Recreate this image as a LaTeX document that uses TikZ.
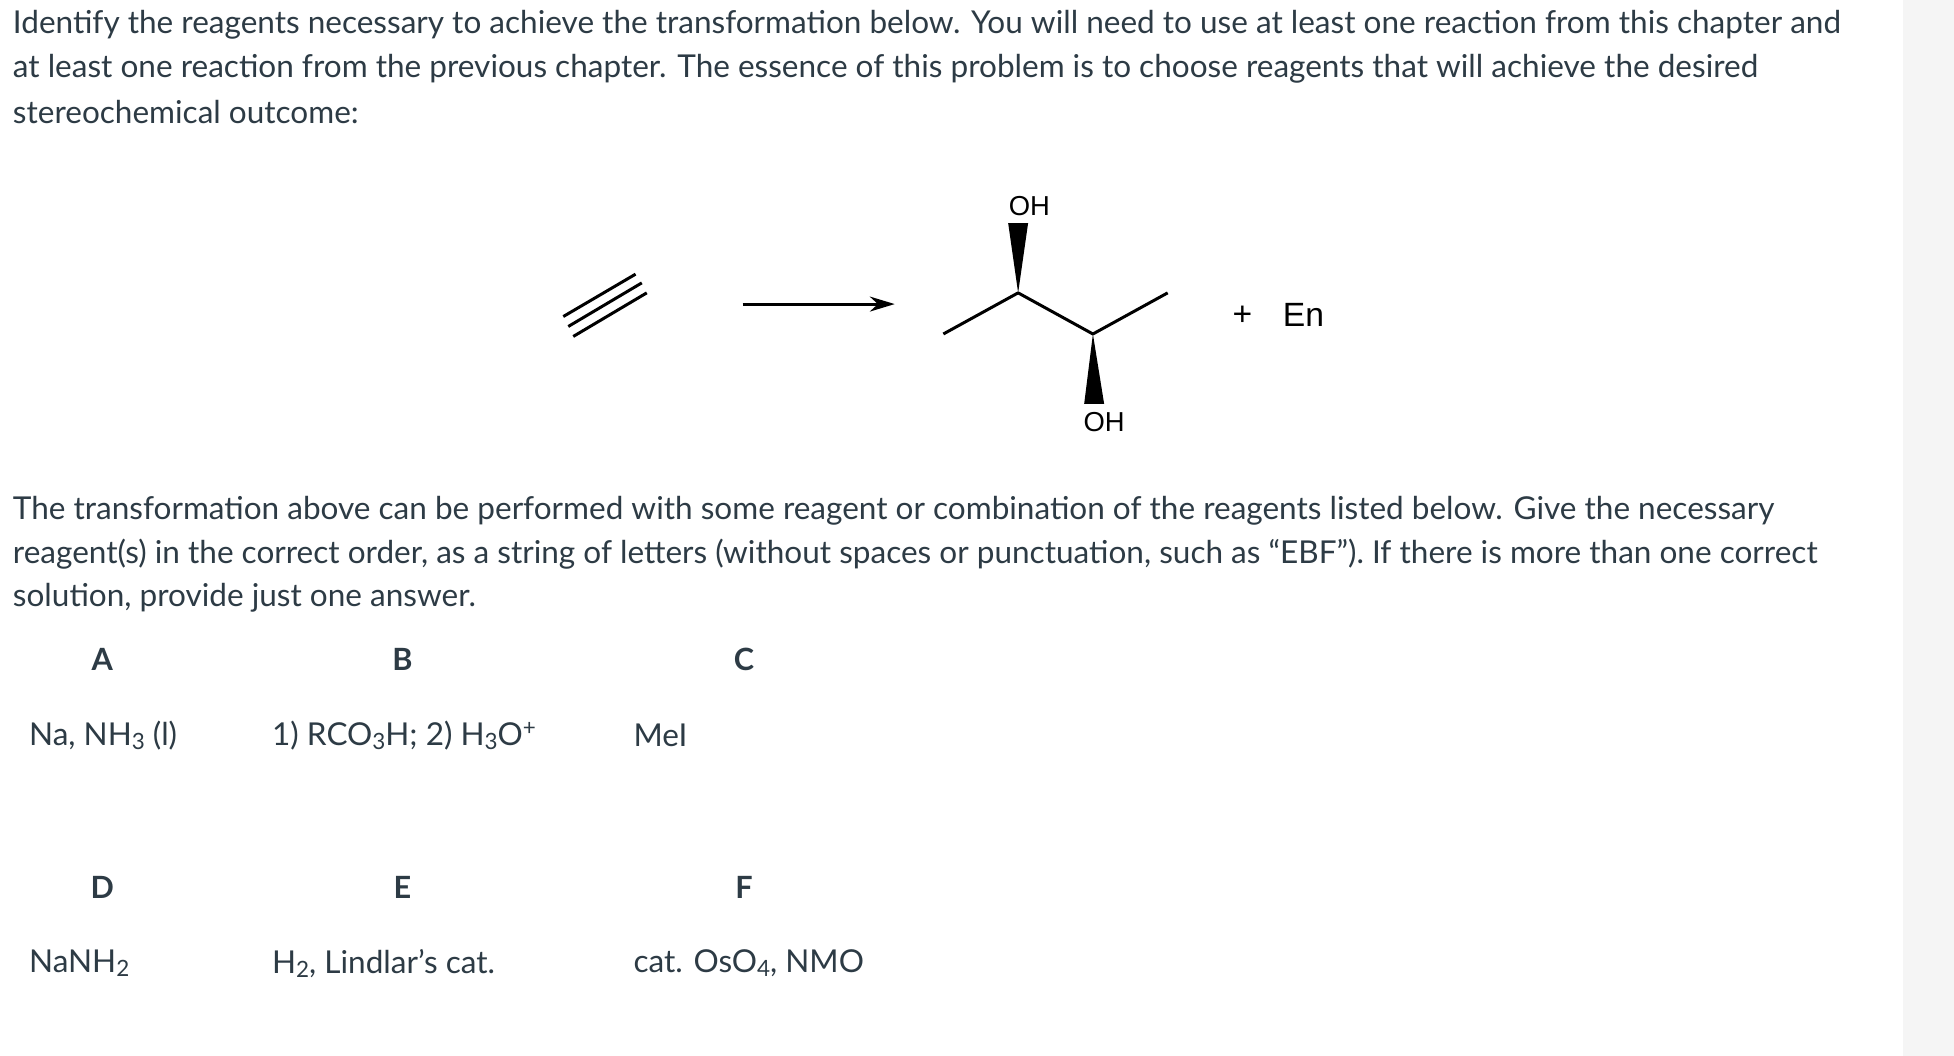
\documentclass[tikz,border=0pt]{standalone}
\usepackage{fontspec}
\setmainfont{Lato}
\newfontfamily\chemfont{Liberation Sans}
\usetikzlibrary{arrows.meta}
\definecolor{txt}{HTML}{2D3B45}
\newcommand{\sbs}[1]{\raisebox{-0.25ex}{\fontsize{9}{10}\selectfont #1}}
\newcommand{\sps}[1]{\raisebox{0.6ex}{\fontsize{9}{10}\selectfont #1}}
\begin{document}
\begin{tikzpicture}[x=0.5pt,y=-0.5pt,
  para/.style={anchor=west,inner sep=0,text=txt,font=\fontsize{12.65}{17.5}\selectfont},
  hdr/.style={inner sep=0,text=txt,font=\bfseries\fontsize{12.3}{15}\selectfont},
  bond/.style={line width=1.2pt,black},
  lbl/.style={inner sep=0,font=\chemfont\fontsize{11}{12}\selectfont}]
\useasboundingbox (0,0) rectangle (1568,847);
\fill[white] (0,0) rectangle (1568,847);
\fill[black!4] (1527,0) rectangle (1568,847);
\node[para] (l1) at (10,20) {Identify the reagents necessary to achieve the transformation below. You will need to use at least one reaction from this chapter and};
\node[para] (l2) at (10,55) {at least one reaction from the previous chapter. The essence of this problem is to choose reagents that will achieve the desired};
\node[para] (l3) at (10,90) {stereochemical outcome:};
% alkyne
\draw[bond] (452,254) -- (510,220);
\draw[bond] (456,262) -- (515,227);
\draw[bond] (460,270) -- (519,235);
\coordinate (a1) at (596,244);
\coordinate (a2) at (718,244);
\draw[bond,-{Stealth[length=10pt,width=6pt]}] (a1) -- (a2);
% product
\coordinate (c1) at (757,268);
\coordinate (c2) at (817,235);
\coordinate (c3) at (877,268);
\coordinate (c4) at (937,235);
\draw[bond,line join=round] (c1) -- (c2) -- (c3) -- (c4);
\fill (c2) -- (809,179) -- (825,179) -- cycle;
\fill (c3) -- (870,324) -- (886,324) -- cycle;
\node[lbl] (oh1) at (826,165) {OH};
\node[lbl] (oh2) at (886,339) {OH};
\node[inner sep=0,font=\chemfont\fontsize{13.5}{15}\selectfont] (plus) at (997,253) {+};
\node[inner sep=0,font=\chemfont\fontsize{13.5}{15}\selectfont,anchor=west] (en) at (1029,253) {En};
\node[para] (m1) at (10,410) {The transformation above can be performed with some reagent or combination of the reagents listed below. Give the necessary};
\node[para] (m2) at (10,445) {reagent(s) in the correct order, as a string of letters (without spaces or punctuation, such as “EBF”). If there is more than one correct};
\node[para] (m3) at (10,480) {solution, provide just one answer.};
\node[hdr] (hA) at (82,529) {A};
\node[hdr] (hB) at (323,529) {B};
\node[hdr] (hC) at (597,529) {C};
\node[para] (rA) at (23,590) {Na, NH\sbs{3} (l)};
\node[para] (rB) at (218,590) {1) RCO\sbs{3}H; 2) H\sbs{3}O\sps{+}};
\node[para] (rC) at (508,590) {MeI};
\node[hdr] (hD) at (82,712) {D};
\node[hdr] (hE) at (323,712) {E};
\node[hdr] (hF) at (597,712) {F};
\node[para] (rD) at (23,773) {NaNH\sbs{2}};
\node[para] (rE) at (218,773) {H\sbs{2}, Lindlar’s cat.};
\node[para] (rF) at (508,773) {cat. OsO\sbs{4}, NMO};
\end{tikzpicture}
\end{document}
